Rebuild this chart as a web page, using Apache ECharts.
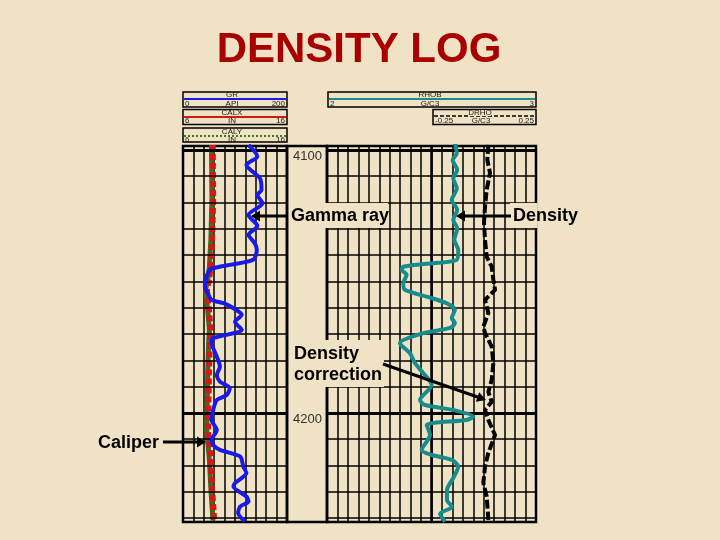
<!DOCTYPE html>
<html><head><meta charset="utf-8">
<script src="https://cdn.jsdelivr.net/npm/echarts@6/dist/echarts.min.js"></script>
<style>html,body{margin:0;padding:0;background:#F0E2C4;} #c{width:720px;height:540px;}</style>
</head><body><div id="c"></div>
<script>
// ---- scales / ticks ----
const depthRange = [4098.5, 4241.5];
const depthTicks = [4100,4110,4120,4130,4140,4150,4160,4170,4180,4190,4200,4210,4220,4230,4240];
const depthLabels = [4100, 4200];
const grScale = [0, 200];
const calScale = [6, 16];
const rhobScale = [2, 3];
const drhoScale = [-0.25, 0.25];

// ---- Gamma ray (API) ----
const grDepths = [4098.1,4102.5,4105.7,4110.8,4115.2,4117.1,4120.3,4124.7,4128.9,4132.3,4135.5,4138.0,4141.8,4143.7,4145.0,4146.3,4152.0,4153.9,4157.0,4158.3,4160.2,4162.7,4165.3,4168.4,4171.6,4173.4,4177.2,4182.4,4185.6,4188.1,4190.6,4193.2,4195.1,4198.9,4202.7,4206.5,4210.3,4212.2,4214.1,4216.6,4220.4,4222.9,4226.7,4228.0,4231.8,4233.7,4235.6,4238.1,4241.3];
const grValues = [126,143,122,148,151,143,153,126,143,126,138,142,135,90,58,49,42,46,55,78,97,113,100,113,58,55,62,71,65,71,90,84,65,58,55,65,55,58,71,110,116,122,100,97,122,126,110,106,119];

// ---- Calipers (IN) ----
const calDepths = [4098.1,4119,4134,4144.5,4149.4,4153,4161,4168.5,4172,4183.6,4195,4206.5,4218,4229,4241];
const calxValues = [8.86,8.9,8.8,8.66,8.5,8.3,8.5,8.66,8.6,8.5,8.45,8.4,8.66,8.8,9.0];
const calyValues = [8.74,8.78,8.68,8.54,8.38,8.18,8.38,8.54,8.48,8.38,8.33,8.28,8.54,8.68,8.88];

// ---- Bulk density RHOB (G/C3) ----
const rhobDepths = [4097.5,4101.3,4103.8,4107.6,4110.8,4114.6,4119.0,4122.8,4126.6,4129.8,4134.2,4138.0,4141.8,4143.3,4144.4,4145.6,4147.5,4150.7,4153.2,4155.8,4158.3,4160.8,4163.9,4165.8,4167.7,4169.7,4173.5,4177.3,4181.1,4184.9,4189.4,4195.1,4197.0,4198.9,4201.4,4202.7,4204.6,4208.4,4214.1,4216.0,4217.9,4220.4,4224.8,4229.3,4233.1,4235.7,4238.4,4241.4];
const rhobValues = [2.612,2.621,2.601,2.623,2.604,2.621,2.597,2.623,2.604,2.623,2.609,2.628,2.621,2.477,2.365,2.357,2.381,2.365,2.373,2.477,2.573,2.612,2.597,2.612,2.589,2.461,2.349,2.397,2.421,2.461,2.501,2.445,2.469,2.604,2.700,2.668,2.477,2.493,2.453,2.501,2.597,2.628,2.604,2.574,2.574,2.598,2.541,2.565];

// ---- Density correction DRHO (G/C3) ----
const drhoDepths = [4098.1,4103.8,4108.7,4115.2,4121.6,4127.8,4134.2,4140.6,4144.4,4149.4,4153.2,4157.0,4162.0,4167.2,4169.6,4174.8,4181.1,4187.5,4192.0,4195.8,4198.9,4202.7,4208.4,4215.2,4220.4,4226.6,4231.8,4240.7];
const drhoValues = [0.022,0.017,0.030,0.014,0.006,0.001,0.006,0.014,0.038,0.046,0.054,0.006,0.022,-0.002,0.006,0.038,0.046,0.038,0.022,0.038,0.006,0.022,0.054,0.022,0.006,-0.002,0.014,0.022];

const zip = (vals, deps) => vals.map((v, i) => [v, deps[i]]);

const BG = '#F0E2C4';
const HFONT = '8px Arial';
function txt(x, y, s, o) {
  o = o || {};
  return { type: 'text', x: x, y: y, z: o.z || 100,
    style: { text: s, fill: o.fill || '#1a1a1a', font: o.font || HFONT,
      textAlign: o.align || 'left', textVerticalAlign: o.va || 'middle',
      align: o.align || 'left', verticalAlign: o.va || 'middle' } };
}
function rect(x, y, w, h, o) {
  o = o || {};
  return { type: 'rect', z: o.z || 90, shape: { x: x, y: y, width: w, height: h },
    style: { fill: o.fill || 'none', stroke: o.stroke || null, lineWidth: o.lw || 0 } };
}
function seg(x1, y1, x2, y2, o) {
  o = o || {};
  return { type: 'line', z: o.z || 95, shape: { x1: x1, y1: y1, x2: x2, y2: y2 },
    style: { stroke: o.stroke || '#000', lineWidth: o.lw || 2, lineDash: o.dash || null } };
}
function head(points) {
  return { type: 'polygon', z: 101, shape: { points: points }, style: { fill: '#000' } };
}
const BFONT = 'bold 18px Arial';

const graphics = [
  // title
  txt(359, 50, 'DENSITY LOG', { font: 'bold 42px Arial', fill: '#A80000', align: 'center' }),
  // GR header
  rect(183, 92, 104, 15, { stroke: '#000', lw: 1.5 }),
  seg(184, 99, 286, 99, { stroke: '#1A1AE8', lw: 2 }),
  txt(232, 95, 'GR', { align: 'center' }),
  txt(185, 103.5, String(grScale[0])),
  txt(232, 103.5, 'API', { align: 'center' }),
  txt(285, 103.5, String(grScale[1]), { align: 'right' }),
  // CALX header
  rect(183, 109.5, 104, 15, { stroke: '#000', lw: 1.5 }),
  seg(184, 117, 286, 117, { stroke: '#D01818', lw: 2 }),
  txt(232, 113, 'CALX', { align: 'center' }),
  txt(185, 121, String(calScale[0])),
  txt(232, 121, 'IN', { align: 'center' }),
  txt(285, 121, String(calScale[1]), { align: 'right' }),
  // CALY header
  rect(183, 128, 104, 14, { stroke: '#000', lw: 1.5 }),
  seg(184, 136, 286, 136, { stroke: '#3B7A1E', lw: 2, dash: [2, 2] }),
  txt(232, 132, 'CALY', { align: 'center' }),
  txt(185, 139.5, String(calScale[0])),
  txt(232, 139.5, 'IN', { align: 'center' }),
  txt(285, 139.5, String(calScale[1]), { align: 'right' }),
  // RHOB header
  rect(328, 92, 208, 15, { stroke: '#000', lw: 1.5 }),
  seg(329, 99, 535, 99, { stroke: '#168C8C', lw: 2 }),
  txt(430, 95, 'RHOB', { align: 'center' }),
  txt(330, 103.5, String(rhobScale[0])),
  txt(430, 103.5, 'G/C3', { align: 'center' }),
  txt(534, 103.5, String(rhobScale[1]), { align: 'right' }),
  // DRHO header
  rect(433, 109.5, 103, 15, { stroke: '#000', lw: 1.5 }),
  seg(434, 116, 535, 116, { stroke: '#000', lw: 1.5, dash: [4, 2] }),
  rect(469, 110, 22, 6, { fill: BG, z: 96 }),
  txt(480, 113, 'DRHO', { align: 'center' }),
  txt(435, 121, drhoScale[0].toFixed(2)),
  txt(481, 121, 'G/C3', { align: 'center' }),
  txt(534, 121, drhoScale[1].toFixed(2), { align: 'right' }),
  // Gamma ray annotation
  rect(289, 203, 99, 25, { fill: BG }),
  txt(291, 216, 'Gamma ray', { font: BFONT, fill: '#000' }),
  seg(288, 216, 257, 216, { lw: 3 }),
  head([[251, 216], [260, 210.5], [260, 221.5]]),
  // Density annotation
  rect(510, 203, 27.5, 25, { fill: BG }),
  txt(513, 216, 'Density', { font: BFONT, fill: '#000' }),
  seg(511, 216, 462, 216, { lw: 3 }),
  head([[456, 216], [465, 210.5], [465, 221.5]]),
  // Density correction annotation
  rect(289, 340, 95, 47, { fill: BG }),
  txt(294, 354, 'Density', { font: BFONT, fill: '#000' }),
  txt(294, 375, 'correction', { font: BFONT, fill: '#000' }),
  seg(383, 364, 479, 397.5, { lw: 3 }),
  head([[486, 400], [475.9, 401.7], [479.2, 392.3]]),
  // Caliper annotation
  txt(98, 443, 'Caliper', { font: BFONT, fill: '#000' }),
  seg(163, 442, 199, 442, { lw: 3 }),
  head([[206, 442], [197, 436.5], [197, 447.5]])
];

const hLines = depthTicks.map(d => ({ yAxis: d,
  lineStyle: { color: '#000', type: 'solid', width: d % 100 === 0 ? 3 : 1.6 } }));

function gridLineSeries(xi, yi, extra) {
  return { type: 'line', xAxisIndex: xi, yAxisIndex: yi, data: [], z: 1, silent: true,
    markLine: { silent: true, animation: false, symbol: ['none', 'none'], label: { show: false },
      emphasis: { disabled: true }, data: hLines.concat(extra || []) } };
}

const depthAxis = (gi) => ({ type: 'value', gridIndex: gi, inverse: true,
  min: depthRange[0], max: depthRange[1], show: false });

const option = {
  backgroundColor: BG,
  animation: false,
  grid: [
    { left: 183, top: 146, width: 104, height: 376, show: true, borderColor: '#000', borderWidth: 2.5, backgroundColor: 'transparent' },
    { left: 327, top: 146, width: 209, height: 376, show: true, borderColor: '#000', borderWidth: 2.5, backgroundColor: 'transparent' },
    { left: 431.5, top: 146, width: 104.5, height: 376, show: false },
    { left: 287, top: 146, width: 40, height: 376, show: true, borderColor: '#000', borderWidth: 2.5, backgroundColor: 'transparent' }
  ],
  xAxis: [
    { type: 'value', gridIndex: 0, min: grScale[0], max: grScale[1], interval: 20,
      axisLine: { show: false }, axisTick: { show: false }, axisLabel: { show: false },
      splitLine: { show: true, lineStyle: { color: '#000', width: 1.5 } } },
    { type: 'value', gridIndex: 0, min: calScale[0], max: calScale[1], show: false },
    { type: 'value', gridIndex: 1, min: rhobScale[0], max: rhobScale[1], interval: 0.05,
      axisLine: { show: false }, axisTick: { show: false }, axisLabel: { show: false },
      splitLine: { show: true, lineStyle: { color: '#000', width: 1.5 } } },
    { type: 'value', gridIndex: 2, min: drhoScale[0], max: drhoScale[1], show: false },
    { type: 'value', gridIndex: 3, min: 0, max: 1, show: false }
  ],
  yAxis: [
    depthAxis(0), depthAxis(1), depthAxis(2),
    { type: 'value', gridIndex: 3, inverse: true, min: depthRange[0], max: depthRange[1],
      position: 'left', axisLine: { show: false }, axisTick: { show: false },
      splitLine: { show: false },
      axisLabel: { show: true, inside: true, margin: 6, customValues: depthLabels,
        formatter: (v) => String(v),
        verticalAlign: 'top', color: '#333', fontSize: 13, fontFamily: 'Arial' } }
  ],
  series: [
    gridLineSeries(0, 0),
    gridLineSeries(2, 1, [{ xAxis: (rhobScale[0] + rhobScale[1]) / 2,
      lineStyle: { color: '#000', type: 'solid', width: 2.5 } }]),
    { name: 'CALY', type: 'line', xAxisIndex: 1, yAxisIndex: 0, z: 3, showSymbol: false, silent: true,
      data: zip(calyValues, calDepths), lineStyle: { color: '#3B6E1E', width: 5 } },
    { name: 'CALX', type: 'line', xAxisIndex: 1, yAxisIndex: 0, z: 4, showSymbol: false, silent: true,
      data: zip(calxValues, calDepths), lineStyle: { color: '#D41616', width: 6, type: [6, 3], cap: 'butt' } },
    { name: 'GR', type: 'line', xAxisIndex: 0, yAxisIndex: 0, z: 5, showSymbol: false, silent: true, smooth: 0.25,
      data: zip(grValues, grDepths), lineStyle: { color: '#1A1AE8', width: 4, join: 'round' } },
    { name: 'RHOB', type: 'line', xAxisIndex: 2, yAxisIndex: 1, z: 5, showSymbol: false, silent: true, smooth: 0.25,
      data: zip(rhobValues, rhobDepths), lineStyle: { color: '#168C8C', width: 4, join: 'round' } },
    { name: 'DRHO', type: 'line', xAxisIndex: 3, yAxisIndex: 2, z: 5, showSymbol: false, silent: true,
      data: zip(drhoValues, drhoDepths), lineStyle: { color: '#000', width: 4, type: [9, 3], join: 'round' } }
  ],
  graphic: graphics
};

const chart = echarts.init(document.getElementById('c'), null, { renderer: 'canvas' });
chart.setOption(option);
</script></body></html>
